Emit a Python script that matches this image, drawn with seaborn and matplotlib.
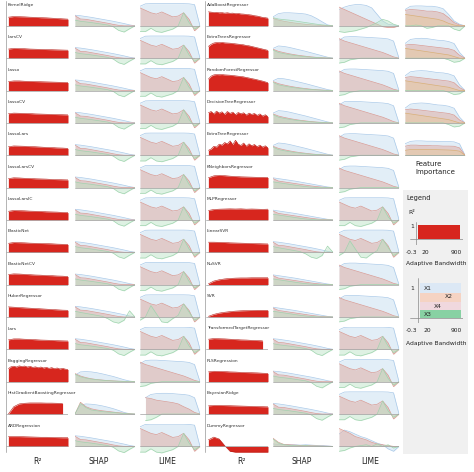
import numpy as np
import matplotlib
matplotlib.use("Agg")
import matplotlib.pyplot as plt
import seaborn as sns
from matplotlib.lines import Line2D
from matplotlib.patches import Rectangle

nan = np.nan

# bandwidth grids
BW = [20, 100, 180, 260, 340, 420, 500, 580, 660, 740, 820, 900]
BW_FINE = [20, 60, 100, 140, 180, 220, 260, 300, 340, 380, 420, 460,
           500, 540, 580, 620, 660, 700, 740, 780, 820, 860, 900]

LEFT_MODELS = ["KernelRidge", "LarsCV", "Lasso", "LassoCV", "LassoLars", "LassoLarsCV",
               "LassoLarsIC", "ElasticNet", "ElasticNetCV", "HuberRegressor", "Lars",
               "BaggingRegressor", "HistGradientBoostingRegressor", "ARDRegression"]
RIGHT_MODELS = ["AdaBoostRegressor", "ExtraTreesRegressor", "RandomForestRegressor",
                "DecisionTreeRegressor", "ExtraTreeRegressor", "KNeighborsRegressor",
                "MLPRegressor", "LinearSVR", "NuSVR", "SVR", "TransformedTargetRegressor",
                "PLSRegression", "BayesianRidge", "DummyRegressor"]

# R2 along bandwidth
R2_LEFT = [
    [0.53, 0.57, 0.56, 0.55, 0.53, 0.52, 0.50, 0.49, 0.47, 0.45, 0.43, 0.41],
    [0.56, 0.60, 0.59, 0.58, 0.56, 0.55, 0.54, 0.53, 0.52, 0.51, 0.50, 0.49],
    [0.55, 0.59, 0.59, 0.57, 0.56, 0.55, 0.54, 0.53, 0.52, 0.51, 0.50, 0.49],
    [0.56, 0.60, 0.59, 0.58, 0.57, 0.55, 0.54, 0.53, 0.52, 0.51, 0.50, 0.49],
    [0.52, 0.57, 0.56, 0.55, 0.53, 0.52, 0.50, 0.48, 0.47, 0.45, 0.44, 0.42],
    [0.55, 0.60, 0.59, 0.57, 0.56, 0.54, 0.53, 0.52, 0.50, 0.49, 0.48, 0.47],
    [0.53, 0.58, 0.57, 0.56, 0.54, 0.53, 0.52, 0.50, 0.49, 0.48, 0.46, 0.45],
    [0.55, 0.60, 0.59, 0.58, 0.56, 0.55, 0.54, 0.53, 0.52, 0.50, 0.49, 0.48],
    [0.62, 0.66, 0.65, 0.63, 0.61, 0.59, 0.58, 0.56, 0.55, 0.53, 0.52, 0.50],
    [0.62, 0.60, 0.58, 0.56, 0.54, 0.52, 0.50, 0.48, 0.46, 0.44, 0.42, 0.41],
    [0.58, 0.64, 0.64, 0.62, 0.61, 0.59, 0.57, 0.56, 0.55, 0.53, 0.52, 0.51],
    [0.80, 0.92, 0.95, 0.90, 0.97, 0.93, 0.96, 0.90, 0.94, 0.88, 0.91, 0.86,
     0.90, 0.84, 0.88, 0.82, 0.86, 0.80, 0.84, 0.78, 0.82, 0.77, 0.75],
    [0.00, 0.45, 0.62, 0.66, 0.68, 0.68, 0.68, 0.67, 0.67, 0.66, 0.65, nan],
    [0.60, 0.60, 0.60, 0.59, 0.58, 0.57, 0.56, 0.56, 0.55, 0.54, 0.53, 0.53],
]
R2_RIGHT = [
    [0.86, 0.84, 0.82, 0.83, 0.80, 0.81, 0.78, 0.80, 0.77, 0.78, 0.75, 0.76,
     0.73, 0.72, 0.70, 0.68, 0.66, 0.62, 0.60, 0.56, 0.52, 0.50, 0.47],
    [0.72, 0.85, 0.93, 0.96, 0.95, 0.97, 0.94, 0.93, 0.92, 0.90, 0.88, 0.86,
     0.84, 0.82, 0.78, 0.76, 0.72, 0.68, 0.64, 0.60, 0.56, 0.52, 0.48],
    [0.70, 0.88, 0.96, 0.98, 0.97, 0.98, 0.96, 0.95, 0.94, 0.92, 0.90, 0.88,
     0.86, 0.84, 0.80, 0.77, 0.73, 0.70, 0.66, 0.62, 0.58, 0.53, 0.48],
    [0.62, 0.70, 0.55, 0.72, 0.60, 0.68, 0.52, 0.70, 0.58, 0.66, 0.50, 0.64,
     0.56, 0.62, 0.48, 0.60, 0.52, 0.58, 0.46, 0.55, 0.42, 0.50, 0.38],
    [0.30, 0.38, 0.55, 0.50, 0.68, 0.62, 0.78, 0.70, 0.88, 0.65, 0.92, 0.68,
     0.60, 0.75, 0.55, 0.70, 0.58, 0.66, 0.52, 0.62, 0.50, 0.58, 0.45],
    [0.60, 0.72, 0.75, 0.73, 0.70, 0.68, 0.66, 0.65, 0.64, 0.63, 0.63, 0.62],
    [0.58, 0.64, 0.66, 0.67, 0.68, 0.67, 0.68, 0.66, 0.67, 0.66, 0.65, 0.66],
    [0.62, 0.62, 0.61, 0.60, 0.58, 0.57, 0.56, 0.55, 0.54, 0.53, 0.52, 0.51],
    [0.05, 0.22, 0.30, 0.35, 0.38, 0.40, 0.41, 0.41, 0.42, 0.42, 0.42, 0.42],
    [0.04, 0.16, 0.24, 0.29, 0.33, 0.36, 0.38, 0.39, 0.40, 0.41, 0.41, 0.41],
    [0.62, 0.66, 0.65, 0.64, 0.62, 0.60, 0.58, 0.57, 0.55, 0.54, 0.52, nan],
    [0.60, 0.64, 0.63, 0.62, 0.60, 0.59, 0.57, 0.56, 0.55, 0.54, 0.52, 0.51],
    [0.50, 0.53, 0.53, 0.52, 0.51, 0.50, 0.49, 0.48, 0.47, 0.46, 0.45, 0.44],
    [0.40, 0.57, 0.45, 0.05, -0.30, -0.35, -0.35, -0.35, -0.35, -0.35, -0.35, -0.35],
]

# SHAP profiles (X1 blue, X2 red, X3 green)
SHAP_LIN_X1 = [0.65, 0.62, 0.57, 0.52, 0.46, 0.40, 0.34, 0.28, 0.21, 0.14, 0.06, 0.0]
SHAP_LIN_X2 = [0.62, 0.42, 0.40, 0.34, 0.28, 0.22, 0.16, 0.09, 0.03, 0.0, 0.0, 0.0]
SHAP_LIN_X3 = [0.35, 0.28, 0.24, 0.20, 0.15, 0.10, 0.05, -0.05, -0.28, -0.38, -0.18, 0.0]
SHAP_HUB_X3 = [0.35, 0.28, 0.22, 0.16, 0.10, 0.04, -0.10, -0.30, -0.38, -0.20, 0.38, 0.0]
SHAP_TREE_X1 = [0.60, 0.75, 0.72, 0.66, 0.58, 0.50, 0.42, 0.33, 0.24, 0.15, 0.06, 0.0]
SHAP_TREE_X2 = [0.55, 0.42, 0.34, 0.27, 0.21, 0.16, 0.12, 0.08, 0.05, 0.03, 0.01, 0.0]
SHAP_TREE_X3 = [0.50, 0.35, 0.28, 0.22, 0.17, 0.13, 0.09, 0.06, 0.04, 0.02, 0.01, 0.0]
SHAP_ADA_X1 = [0.55, 0.75, 0.80, 0.80, 0.78, 0.76, 0.72, 0.62, 0.45, 0.25, 0.06, 0.0]
SHAP_ADA_X2 = [0.45, 0.35, 0.28, 0.22, 0.17, 0.13, 0.09, 0.06, 0.04, 0.02, 0.01, 0.0]
SHAP_ADA_X3 = [0.50, 0.42, 0.38, 0.35, 0.30, 0.25, 0.20, 0.15, 0.10, 0.06, 0.03, 0.0]
SHAP_BAG_X1 = [0.40, 0.60, 0.62, 0.60, 0.55, 0.48, 0.40, 0.32, 0.22, 0.12, 0.04, 0.0]
SHAP_BAG_X2 = [0.50, 0.35, 0.25, 0.18, 0.13, 0.10, 0.07, 0.05, 0.03, 0.02, 0.01, 0.0]
SHAP_BAG_X3 = [0.45, 0.30, 0.22, 0.16, 0.12, 0.09, 0.06, 0.04, 0.03, 0.02, 0.01, 0.0]
SHAP_HGB_X1 = [0.0, 0.55, 0.62, 0.60, 0.56, 0.50, 0.42, 0.33, 0.22, 0.10, 0.02, 0.0]
SHAP_HGB_X2 = [0.0, 0.72, 0.45, 0.32, 0.25, 0.20, 0.16, 0.12, 0.08, 0.05, 0.02, 0.0]
SHAP_HGB_X3 = [0.0, 0.65, 0.40, 0.25, 0.20, 0.15, 0.12, 0.10, 0.06, 0.03, 0.01, 0.0]
SHAP_SMO_X1 = [0.60, 0.55, 0.50, 0.45, 0.40, 0.34, 0.28, 0.22, 0.16, 0.10, 0.04, 0.0]
SHAP_SMO_X2 = [0.55, 0.40, 0.35, 0.30, 0.25, 0.20, 0.15, 0.10, 0.06, 0.03, 0.01, 0.0]
SHAP_SMO_X3 = [0.35, 0.30, 0.25, 0.20, 0.15, 0.10, 0.06, 0.03, 0.01, 0.0, 0.0, 0.0]
SHAP_DUM_X1 = [0.15, 0.12, 0.12, 0.10, 0.10, 0.08, 0.10, 0.08, 0.06, 0.05, 0.03, 0.0]
SHAP_DUM_X2 = [0.50, 0.25, 0.12, 0.10, 0.08, 0.06, 0.06, 0.04, 0.03, 0.02, 0.01, 0.0]
SHAP_DUM_X3 = [0.45, 0.20, 0.10, 0.06, 0.04, 0.03, 0.05, 0.02, 0.02, 0.01, 0.0, 0.0]

# LIME profiles
LIME_LIN_X1 = [1.20, 1.35, 1.36, 1.36, 1.36, 1.36, 1.36, 1.36, 1.36, 1.35, 1.30, 0.0]
LIME_LIN_X2 = [1.10, 0.95, 0.80, 0.72, 0.85, 0.70, 0.55, 0.60, 0.80, 0.40, -0.30, 0.0]
LIME_LIN_X3 = [-0.35, -0.35, -0.15, -0.35, -0.40, -0.30, -0.20, 0.0, 0.80, 0.20, -0.20, 0.0]
LIME_HUB_X3 = [-0.20, 0.0, 0.70, 0.20, -0.30, -0.35, -0.10, 0.10, 0.80, 0.30, -0.20, 0.0]
LIME_TREE_X1 = [1.10, 1.30, 1.32, 1.32, 1.30, 1.28, 1.26, 1.24, 1.22, 1.18, 1.05, 0.0]
LIME_TREE_X2 = [1.20, 1.05, 0.95, 0.85, 0.75, 0.65, 0.55, 0.45, 0.35, 0.22, 0.08, 0.0]
LIME_TREE_X3 = [-0.30, -0.25, -0.10, -0.05, 0.0, 0.0, 0.0, 0.0, 0.0, 0.0, 0.0, 0.0]
LIME_ADA_X1 = [1.00, 1.15, 1.25, 1.30, 1.30, 1.25, 1.10, 0.70, 0.30, 0.10, 0.05, 0.0]
LIME_ADA_X2 = [1.15, 1.00, 0.85, 0.70, 0.55, 0.40, 0.25, 0.10, -0.05, -0.10, -0.10, 0.0]
LIME_ADA_X3 = [-0.35, -0.40, -0.35, -0.30, -0.20, -0.10, 0.05, 0.20, 0.40, 0.30, 0.10, 0.0]
LIME_HGB_X1 = [nan, 1.00, 1.20, 1.25, 1.27, 1.27, 1.25, 1.22, 1.20, 1.15, 1.00, 0.0]
LIME_HGB_X2 = [nan, 1.00, 0.95, 0.85, 0.80, 0.75, 0.70, 0.62, 0.45, 0.30, 0.10, 0.0]
LIME_HGB_X3 = [nan, -0.40, -0.35, -0.20, 0.0, 0.0, 0.0, 0.0, 0.0, 0.0, 0.0, 0.0]
LIME_DUM_X1 = [0.75, 1.00, 0.90, 0.75, 0.60, 0.50, 0.35, 0.20, 0.10, -0.15, -0.30, 0.0]
LIME_DUM_X2 = [1.10, 0.95, 0.80, 0.60, 0.50, 0.40, 0.25, 0.15, 0.10, 0.05, 0.0, 0.0]
LIME_DUM_X3 = [-0.30, -0.25, -0.10, 0.0, 0.05, 0.10, 0.0, 0.15, 0.0, 0.10, -0.10, 0.0]

# feature importance (X1, X2, X4, X3) for the first five right-hand models
FI_A = [[1.00, 1.20, 1.22, 1.22, 1.20, 1.20, 1.15, 1.05, 0.70, 0.30, 0.10, 0.0],
        [0.95, 1.00, 0.98, 0.95, 0.90, 0.90, 0.85, 0.75, 0.50, 0.20, 0.05, 0.0],
        [0.70, 0.65, 0.60, 0.55, 0.50, 0.45, 0.40, 0.30, 0.15, 0.05, 0.0, 0.0],
        [0.0, 0.0, 0.05, 0.0, -0.15, -0.10, 0.0, 0.0, 0.0, -0.20, -0.30, 0.0]]
FI_B = [[0.90, 1.15, 1.20, 1.22, 1.20, 1.15, 1.10, 1.08, 1.02, 0.90, 0.35, 0.0],
        [0.80, 0.85, 0.82, 0.78, 0.74, 0.70, 0.66, 0.62, 0.58, 0.48, 0.18, 0.0],
        [0.60, 0.55, 0.50, 0.45, 0.40, 0.35, 0.30, 0.25, 0.20, 0.10, 0.0, 0.0],
        [0.0, 0.0, 0.0, 0.0, 0.0, 0.0, 0.0, 0.0, -0.10, -0.25, -0.20, 0.0]]
FI_C = [[0.70, 0.85, 0.88, 0.88, 0.86, 0.86, 0.85, 0.84, 0.84, 0.82, 0.70, 0.0],
        [0.55, 0.62, 0.62, 0.60, 0.60, 0.58, 0.58, 0.56, 0.56, 0.55, 0.45, 0.0],
        [0.30, 0.35, 0.35, 0.36, 0.36, 0.35, 0.34, 0.33, 0.32, 0.30, 0.25, 0.0],
        [0.0, 0.0, 0.0, 0.0, 0.0, 0.0, 0.0, 0.0, 0.0, 0.0, 0.0, 0.0]]
FI_RIGHT = [FI_A, FI_B, FI_B, FI_B, FI_C]

SHAP = {
    "lin": (SHAP_LIN_X1, SHAP_LIN_X2, SHAP_LIN_X3),
    "hub": (SHAP_LIN_X1, SHAP_LIN_X2, SHAP_HUB_X3),
    "tree": (SHAP_TREE_X1, SHAP_TREE_X2, SHAP_TREE_X3),
    "ada": (SHAP_ADA_X1, SHAP_ADA_X2, SHAP_ADA_X3),
    "bag": (SHAP_BAG_X1, SHAP_BAG_X2, SHAP_BAG_X3),
    "hgb": (SHAP_HGB_X1, SHAP_HGB_X2, SHAP_HGB_X3),
    "smooth": (SHAP_SMO_X1, SHAP_SMO_X2, SHAP_SMO_X3),
    "dummy": (SHAP_DUM_X1, SHAP_DUM_X2, SHAP_DUM_X3),
}
LIME = {
    "lin": (LIME_LIN_X1, LIME_LIN_X2, LIME_LIN_X3),
    "hub": (LIME_LIN_X1, LIME_LIN_X2, LIME_HUB_X3),
    "tree": (LIME_TREE_X1, LIME_TREE_X2, LIME_TREE_X3),
    "ada": (LIME_ADA_X1, LIME_ADA_X2, LIME_ADA_X3),
    "hgb": (LIME_HGB_X1, LIME_HGB_X2, LIME_HGB_X3),
    "dummy": (LIME_DUM_X1, LIME_DUM_X2, LIME_DUM_X3),
}
SHAP_LEFT = ["lin"] * 9 + ["hub", "lin", "bag", "hgb", "lin"]
LIME_LEFT = ["lin"] * 9 + ["hub", "lin", "tree", "hgb", "lin"]
SHAP_RIGHT = ["ada", "tree", "tree", "tree", "tree", "smooth", "smooth", "hub",
              "smooth", "smooth", "lin", "lin", "lin", "dummy"]
LIME_RIGHT = ["ada", "tree", "tree", "tree", "tree", "tree", "lin", "hub",
              "tree", "tree", "lin", "lin", "lin", "dummy"]

# styling
FILL = ["#d3e5f4", "#dfa99f", "#b6e2c1", "#e8c797"]
EDGE = ["#a9c9e8", "#d99a92", "#9fd4ae", "#d9b074"]
ALPHA = [0.65, 0.5, 0.45, 0.45]
RED, RED_EDGE = "#d7261e", "#b51b14"
LEG_COLORS = {"X1": "#dce8f5", "X2": "#f5d3c3", "X4": "#f0d8de", "X3": "#88d1a3"}
LEG_LABELS = ["X3", "X4", "X2", "X1"]
LEG_HEIGHTS = [0.27, 0.26, 0.30, 0.34]

sns.set_theme(style="white")
plt.rcParams["font.family"] = ["Liberation Sans Narrow", "DejaVu Sans"]

W, H = 474, 472
fig = plt.figure(figsize=(W / 100, H / 100), dpi=100)
fig.patch.set_facecolor("white")


def px(x0, y0, x1, y1):
    return [x0 / W, 1 - y1 / H, (x1 - x0) / W, (y1 - y0) / H]


def panel(x0, x1, row, xlim=(20, 900)):
    yt = 5 + 32.35 * row
    ax = fig.add_axes(px(x0, yt - 2, x1, yt + 29))
    ax.set_xlim(*xlim)
    ax.set_ylim(-0.5, 1.4)
    ax.axis("off")
    ax.patch.set_alpha(0)
    ax.axhline(0, color="#a0a0a0", lw=0.5, zorder=6)
    return ax


def area(ax, y, k):
    y = np.asarray(y, dtype=float)
    x = np.asarray(BW[:len(y)])
    ax.fill_between(x, 0, y, color=FILL[k], alpha=ALPHA[k], lw=0, zorder=2 + k)
    sns.lineplot(x=x, y=y, ax=ax, color=EDGE[k], lw=0.5, legend=False, zorder=3 + k)


def r2(ax, y):
    y = np.asarray(y, dtype=float)
    x = np.asarray(BW_FINE if len(y) == len(BW_FINE) else BW)
    ax.fill_between(x, 0, y, color=RED, lw=0, zorder=3)
    sns.lineplot(x=x, y=y, ax=ax, color=RED_EDGE, lw=0.4, legend=False, zorder=4)


blocks = [
    (6, LEFT_MODELS, R2_LEFT, SHAP_LEFT, LIME_LEFT, (6, 68), (75, 135), (140, 200)),
    (205, RIGHT_MODELS, R2_RIGHT, SHAP_RIGHT, LIME_RIGHT, (206, 268), (273, 333), (339, 399)),
]
for xl, models, r2s, shaps, limes, xr, xs, xm in blocks:
    fig.add_artist(Line2D([xl / W, xl / W], [1 - 1 / H, 1 - 452 / H], color="#a8a8a8", lw=0.6))
    for i, name in enumerate(models):
        yt = 5 + 32.35 * i
        fig.text((xl + 2) / W, 1 - yt / H, name, fontsize=3.2, va="center", ha="left", color="#333333")
        r2(panel(*xr, i, xlim=(-15, 900)), r2s[i])
        ax = panel(*xs, i)
        for k, s in enumerate(SHAP[shaps[i]]):
            area(ax, s, k)
        ax = panel(*xm, i)
        for k, s in enumerate(LIME[limes[i]]):
            area(ax, s, k)

# feature importance column
for i, fi in enumerate(FI_RIGHT):
    ax = panel(405, 465, i)
    for k, s in zip([0, 1, 3, 2], fi):
        area(ax, s, k)
fig.text(415 / W, 1 - 168 / H, "Feature\nImportance", fontsize=5, ha="left", va="center",
         linespacing=1.3, color="#222222")

# bottom labels
for x, lab in [(38, "R²"), (99, "SHAP"), (167, "LIME"), (241, "R²"), (302, "SHAP"), (370, "LIME")]:
    fig.text(x / W, 1 - 462 / H, lab, fontsize=5.5, ha="center", va="center", color="#222222")

# legend box
fig.add_artist(Rectangle((403 / W, 1 - 454 / H), 65 / W, 264 / H, transform=fig.transFigure,
                         color="#f0f0f0", lw=0, zorder=0))
fig.text(406 / W, 1 - 198 / H, "Legend", fontsize=4.8, ha="left", va="center", color="#222222")
fig.text(408 / W, 1 - 213 / H, "R²", fontsize=4.5, ha="left", va="center", color="#222222")

LEG_BW = [20, 900]
LEG_R2 = [1, 1]
ax = fig.add_axes(px(410, 222, 463, 245))
ax.set_xlim(-148, 963)
ax.set_ylim(-6 / 14, 17 / 14)
ax.axis("off")
ax.patch.set_alpha(0)
ax.fill_between(LEG_BW, 0, LEG_R2, color=RED, lw=0)
ax.axhline(0, color="#888888", lw=0.5)
ax.axvline(-22, color="#888888", lw=0.5)

ax = fig.add_axes(px(410, 278, 463, 323))
ax.set_xlim(-195, 943)
ax.set_ylim(-5 / 30, 40 / 30)
ax.axis("off")
ax.patch.set_alpha(0)
base = 0.0
for lab, h in zip(LEG_LABELS, LEG_HEIGHTS):
    ax.fill_between(LEG_BW, base, base + h, color=LEG_COLORS[lab], lw=0)
    base += h
ax.axhline(0, color="#888888", lw=0.5)
ax.axvline(-23, color="#888888", lw=0.5)

for x, y, t, ha in [(414, 226, "1", "right"), (406, 252, "-0.3", "left"), (421, 252, "20", "left"),
                    (462, 252, "900", "right"), (436, 263, "Adaptive Bandwidth", "center"),
                    (414, 288, "1", "right"), (406, 330, "-0.3", "left"), (424, 330, "20", "left"),
                    (462, 330, "900", "right"), (436, 343, "Adaptive Bandwidth", "center"),
                    (428, 288, "X1", "center"), (449, 297, "X2", "center"),
                    (438, 306, "X4", "center"), (428, 314, "X3", "center")]:
    fig.text(x / W, 1 - y / H, t, fontsize=4.3, ha=ha, va="center", color="#222222")

fig.savefig("out.png", dpi=100)
